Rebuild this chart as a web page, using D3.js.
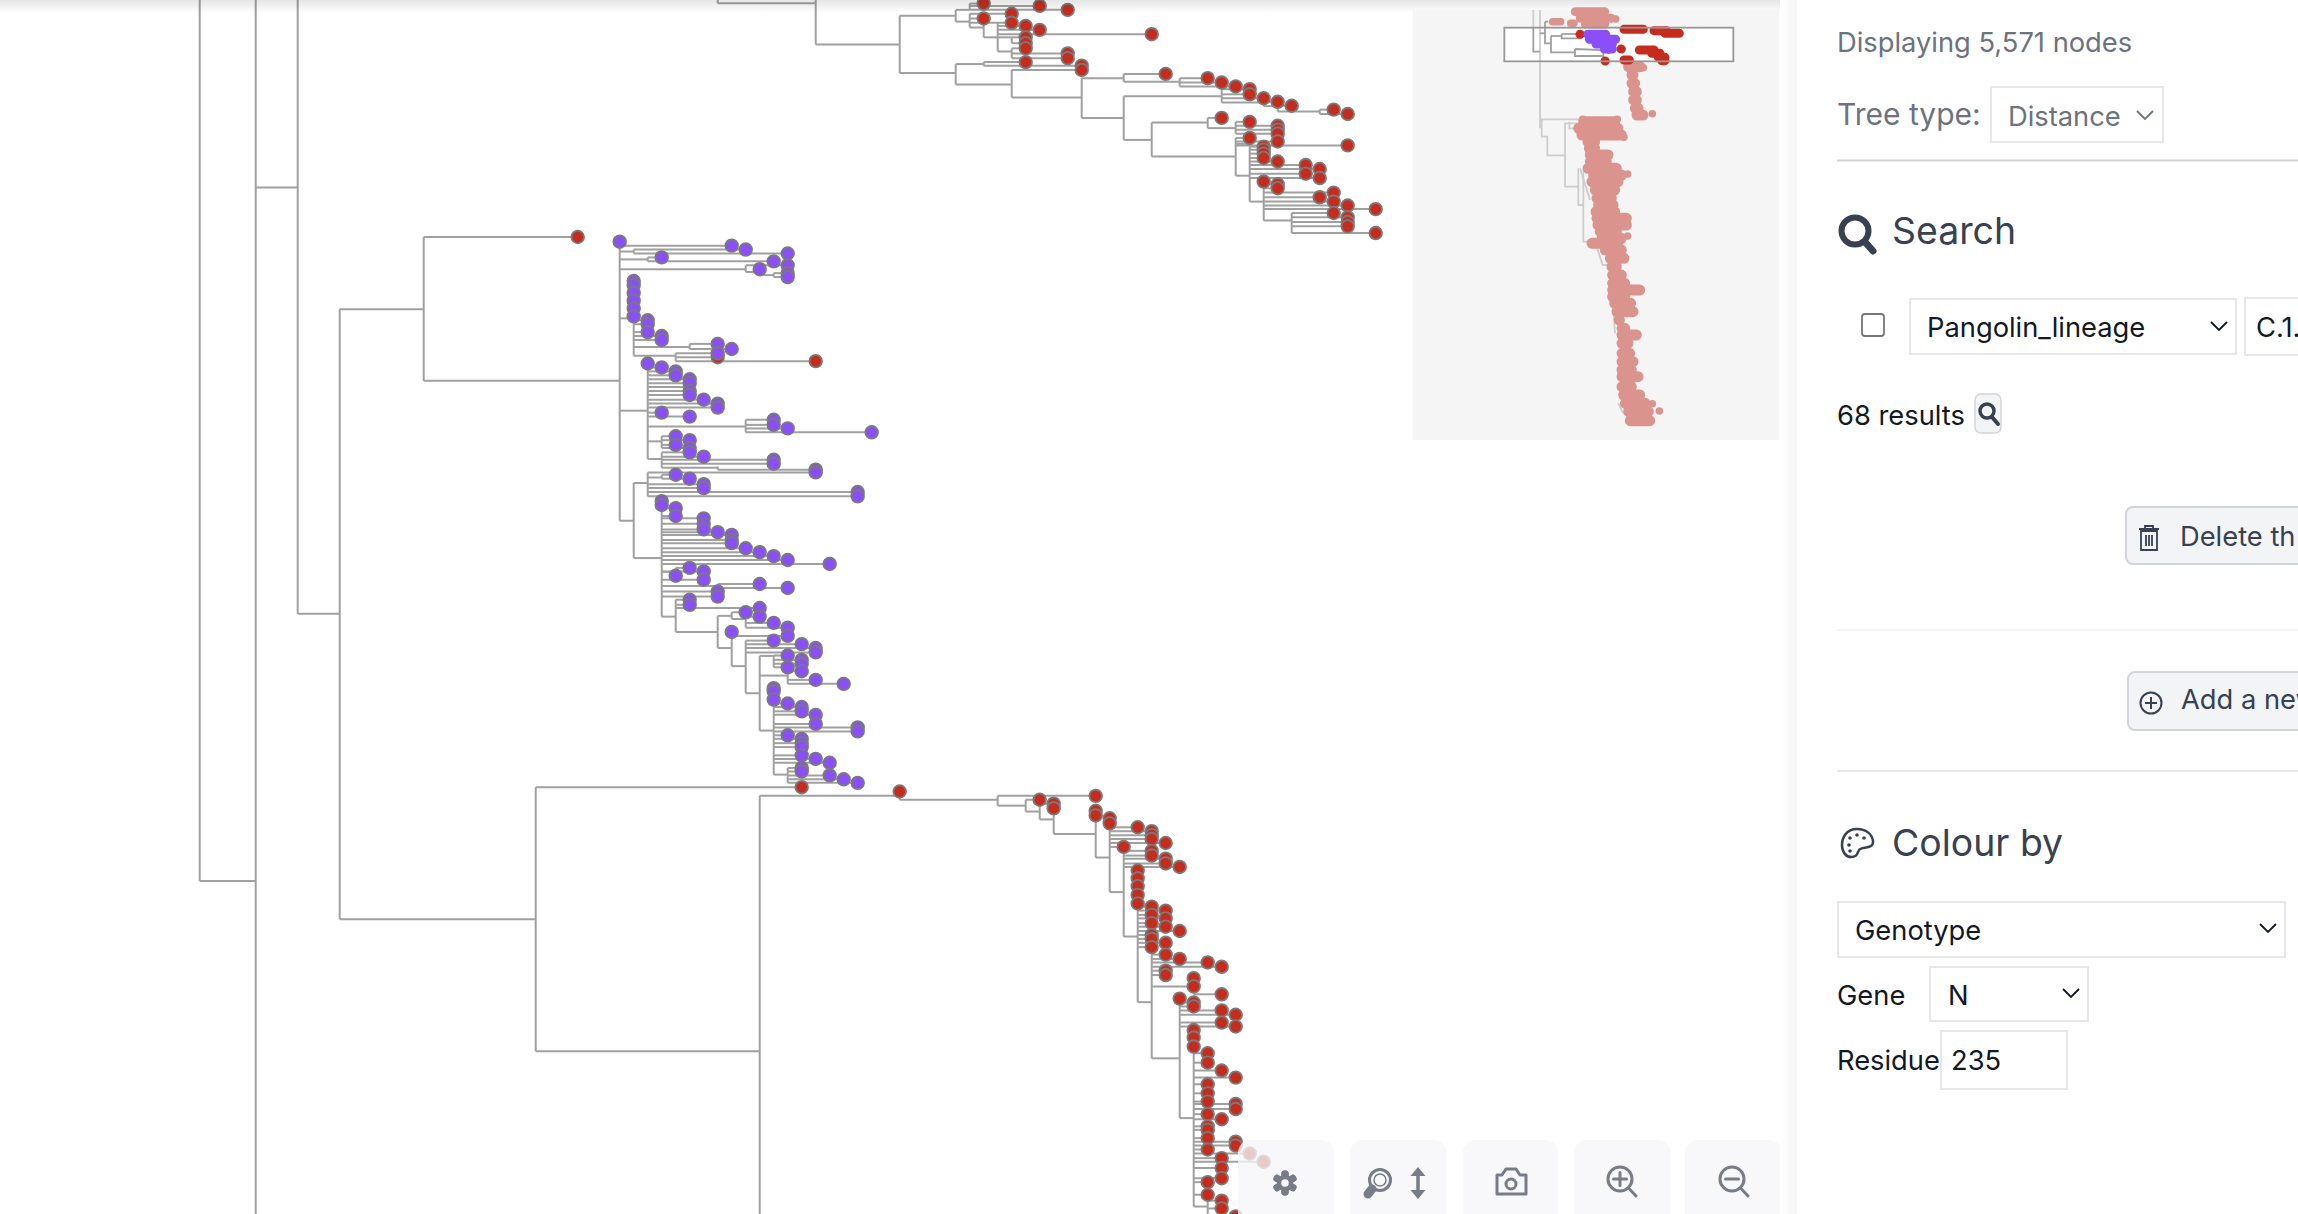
<!DOCTYPE html>
<html>
<head>
<meta charset="utf-8">
<script src="https://cdn.jsdelivr.net/npm/d3@7"></script>
<style>
  html, body { margin: 0; padding: 0; background: #fff; overflow: hidden; }
  svg { display: block; font-family: Inter, "Noto Sans", sans-serif; }
</style>
</head>
<body>
<div id="chart"></div>
<script>
// Tree data: each clade is [spine distance, kids], a kid is [row, end distance, tip]
// tip: 0 = internal branch, 1 = purple, 2 = red
const rootClades = [
  [0, [[-70, 0, 0], [162.7, 4, 0]]],
  [4, [[-70, 4, 0], [-13.8, 7, 0], [260, 4, 0]]],
  [7, [[-70, 7, 0], [94.7, 10, 0]]],
  [10, [[17.2, 16, 0], [172.4, 24, 0]]],
  [16, [[-1.2, 27, 2], [35.4, 30, 0]]],
  [24, [[138.8, 43, 2], [206, 40, 0]]],
  [40, [[141, 50, 0], [260, 40, 0]]],
  [50, [[139.9, 50, 2], [142, 57, 0]]],
];

const purpleUpper = [
  [30, [[0, 30, 1], [1, 38, 1], [2.5, 31, 0], [4.5, 32, 0], [7, 39, 0], [19.5, 31, 0], [43, 32, 0], [71, 31, 0]]],
  [31, [[2, 39, 1], [3, 42, 1]]],
  [32, [[4, 33, 1], [5, 41, 1]]],
  [39, [[6, 42, 1], [7.7, 40, 0]]],
  [40, [[7, 40, 1], [8.5, 41, 0]]],
  [41, [[8, 42, 1], [9, 42, 1]]],
  [31, [[10, 31, 1], [11, 31, 1], [13, 31, 1], [15, 31, 1], [17, 31, 1], [19, 31, 1], [20, 32, 1], [21, 32, 1], [23, 32, 1], [24, 33, 1], [25, 33, 1], [26.8, 35, 0], [29, 34, 0]]],
  [35, [[26, 37, 1], [27.3, 38, 1]]],
  [34, [[28.4, 37, 1], [29.4, 37, 2], [30.4, 44, 2]]],
  [32, [[31, 32, 1], [32, 33, 1], [33, 34, 1], [34, 34, 1], [35, 35, 1], [36, 35, 1], [37, 35, 0], [38, 35, 1], [39, 35, 1], [40.2, 36, 1], [41.2, 37, 1], [42.2, 37, 1], [43.5, 33, 1], [44.5, 35, 1], [47, 39, 0], [50.8, 33, 0], [55.3, 33, 0]]],
  [39, [[45.3, 41, 1], [46.6, 41, 1], [47.5, 42, 1], [48.5, 48, 1]]],
  [33, [[49.5, 34, 1], [50.5, 35, 1], [51.7, 34, 1], [52.5, 35, 1]]],
  [33, [[53.6, 35, 1], [54.7, 36, 1], [55.5, 41, 1], [56.5, 41, 1], [57.5, 37, 0]]],
  [37, [[57.2, 37, 0], [58, 44, 1]]],
  [31, [[61.4, 32, 0], [71, 31, 0], [80.5, 33, 0]]],
  [32, [[58.7, 44, 1], [60, 33, 0], [61.7, 36, 1], [62.7, 36, 1], [63.7, 47, 1], [64.8, 47, 1]]],
  [33, [[59.3, 34, 1], [60.3, 35, 1]]],
];

const purpleLower = [
  [33, [[66, 33, 1], [67, 33, 1], [67.8, 34, 1], [69.8, 34, 1], [70.4, 36, 1], [71.8, 36, 1], [73.2, 36, 1], [73.9, 37, 1], [74.6, 38, 1], [75.9, 38, 1], [76.7, 38, 1], [78, 39, 1], [79, 40, 1], [80, 41, 1], [81, 42, 1], [82, 45, 1], [83.9, 36, 1], [84, 34, 0], [86, 36, 1], [87.6, 37, 0], [89, 37, 1], [90.3, 37, 1], [95.4, 34, 0]]],
  [34, [[83, 35, 1], [85, 34, 1]]],
  [37, [[87.1, 40, 1], [88.1, 42, 1]]],
  [34, [[91.1, 35, 1], [92.4, 35, 1], [93.2, 40, 1], [99.3, 37, 0]]],
  [37, [[95.2, 38, 0], [103.4, 38, 0]]],
  [38, [[94.3, 39, 1], [96, 39, 0]]],
  [39, [[95.4, 40, 1], [97, 41, 1], [98.2, 42, 1]]],
  [38, [[99.3, 38, 1], [100.3, 42, 1], [108, 39, 0]]],
  [39, [[101.5, 41, 1], [102.4, 43, 1], [103.4, 44, 1], [104.5, 44, 1], [114.9, 40, 0]]],
  [40, [[105.4, 41, 0], [110.4, 42, 0], [124.4, 41, 0]]],
  [41, [[105.3, 42, 1], [106.4, 43, 1], [107.4, 43, 1], [108.3, 42, 1]]],
  [42, [[109.3, 43, 1], [111.5, 44, 1], [112.5, 46, 1]]],
  [41, [[113.6, 41, 1], [114.4, 41, 1], [116.5, 41, 1], [117.5, 42, 1], [118.4, 43, 1], [119.5, 43, 1], [120.4, 44, 1], [122.7, 44, 1], [123.6, 47, 1], [124.6, 47, 1], [125.6, 42, 1], [126.5, 43, 1], [127.6, 43, 1], [128.6, 43, 1], [130.7, 43, 1], [131.6, 44, 1], [132.6, 45, 1], [135.6, 42, 0]]],
  [42, [[133.9, 43, 1], [134.8, 43, 1], [135.8, 45, 1], [136.8, 46, 1], [137.7, 47, 1]]],
];

const redUpper = [
  [37, [[-70, 37, 0], [-60.7, 44, 0]]],
  [44, [[-70, 44, 0], [-50.2, 50, 0]]],
  [50, [[-57.5, 54, 0], [-42.9, 54, 0]]],
  [54, [[-59, 55, 0], [-56, 55, 0]]],
  [55, [[-60.6, 56, 2], [-60, 60, 2], [-59, 62, 2]]],
  [55, [[-56.8, 56, 2], [-58, 58, 2], [-55.7, 58, 2], [-54.5, 56, 0]]],
  [56, [[-56, 56, 0], [-52, 57, 0]]],
  [57, [[-55.7, 57, 0], [-54.9, 59, 2], [-53.9, 60, 2], [-52.8, 68, 2], [-52, 58, 0], [-48.4, 58, 0]]],
  [58, [[-52, 59, 2], [-50.5, 59, 2]]],
  [58, [[-49.2, 59, 2], [-47.9, 62, 2], [-46.7, 62, 2]]],
  [54, [[-45.2, 56, 0], [-40, 58, 0]]],
  [56, [[-45.7, 59, 2], [-44.8, 63, 2]]],
  [58, [[-43.7, 63, 2], [-36.7, 63, 0]]],
  [63, [[-41.6, 66, 0], [-31.5, 66, 0]]],
  [66, [[-42.7, 69, 2], [-40.7, 70, 0]]],
  [70, [[-41.6, 72, 2], [-40.5, 73, 2], [-39.5, 74, 2]]],
  [66, [[-37, 73, 0], [-25.9, 68, 0]]],
  [73, [[-38.8, 75, 2], [-37.5, 75, 2], [-36.5, 76, 2], [-35.4, 76, 0]]],
  [76, [[-35.6, 77, 2], [-34.5, 77, 0]]],
  [77, [[-34.6, 78, 2], [-33.1, 80, 0]]],
  [80, [[-33.6, 81, 2], [-32.5, 82, 2]]],
  [68, [[-30.3, 72, 0], [-21.7, 74, 0]]],
  [72, [[-31.5, 73, 2], [-28.9, 74, 0]]],
  [74, [[-30.5, 75, 2], [-29.5, 77, 2], [-28.5, 77, 2], [-27.5, 77, 2]]],
  [74, [[-26.4, 75, 2], [-25.5, 77, 2], [-24.5, 82, 2], [-24.9, 75, 0], [-16.8, 75, 0]]],
  [75, [[-24.2, 76, 2], [-23.4, 76, 2], [-22.4, 76, 2], [-21.3, 76, 2], [-20.4, 77, 2], [-19.5, 79, 2], [-18.5, 80, 2], [-17.3, 79, 2], [-16.2, 80, 2], [-10.2, 76, 0]]],
  [76, [[-15.3, 76, 2], [-14.6, 77, 2], [-13.6, 77, 2], [-12.5, 81, 2], [-11.3, 80, 2], [-10.2, 81, 2], [-9.2, 82, 2], [-8.3, 84, 2], [-5.4, 78, 0]]],
  [78, [[-7.3, 81, 2], [-6.2, 82, 2], [-5, 82, 2], [-3.9, 82, 2], [-2.2, 84, 2]]],
];

const redLower = [
  [57, [[141, 64, 2], [143.5, 59, 0]]],
  [59, [[142, 60, 2], [145, 60, 0]]],
  [60, [[143, 61, 2], [147, 61, 0]]],
  [61, [[144.2, 61, 2], [150.7, 64, 0]]],
  [64, [[144.8, 64, 2], [146, 64, 2], [156.7, 65, 0]]],
  [65, [[146.7, 65, 2], [148, 65, 2], [149, 67, 2], [150, 68, 2], [151, 68, 2], [152, 68, 2], [153, 69, 2], [154, 66, 2], [165.5, 66, 0]]],
  [66, [[155, 68, 2], [156.2, 68, 2], [157, 69, 2], [158.2, 69, 2], [159.1, 70, 2], [176.8, 67, 0]]],
  [67, [[160, 67, 2], [162, 67, 2], [164, 67, 2], [166.2, 67, 2], [168.4, 67, 2], [169.2, 68, 2], [170.2, 69, 2], [171.3, 68, 2], [172.2, 69, 2], [173.4, 68, 2], [174.3, 69, 2], [175.4, 70, 2], [176.4, 68, 2], [177.4, 68, 2], [178.4, 69, 2], [179.5, 68, 2], [193.5, 68, 0]]],
  [68, [[180.4, 68, 0], [181.4, 69, 2], [182.5, 70, 2], [183.4, 72, 2], [184.5, 73, 2], [185.5, 69, 2], [186.6, 69, 2], [189.5, 71, 0], [207.8, 70, 0]]],
  [71, [[187.4, 71, 2], [189.5, 71, 2], [191.5, 73, 2]]],
  [70, [[192.6, 70, 2], [193.6, 71, 2], [194.6, 71, 2], [195.6, 73, 2], [196.7, 74, 2], [198.7, 73, 2], [199.7, 74, 2], [223, 71, 0]]],
  [71, [[200.6, 71, 2], [202.5, 71, 2], [204.8, 71, 2], [206.5, 72, 2], [208.9, 72, 2], [210.9, 73, 2], [212.7, 74, 2], [214.4, 72, 2], [216.7, 72, 2], [218.8, 72, 2], [219.4, 74, 2], [220.7, 74, 2], [222, 72, 2], [223.3, 73, 2], [225.1, 72, 2], [226, 72, 2], [228.1, 72, 2], [229, 74, 2], [230, 74, 2], [231, 72, 2], [232, 75, 2], [233.2, 73, 2], [234.1, 76, 2], [235.7, 73, 2], [238.3, 73, 2], [239.3, 72, 2], [242.5, 72, 2], [245.5, 72, 0]]],
  [72, [[244, 73, 2], [246, 73, 2], [248, 74, 2], [252, 72, 0]]],
];

// Overview map: blobs are [y, xStart, xEnd], read in overview pixels at 3x
const miniPinkTop = [
  [35, 526, 614], [55, 541, 634], [72, 556, 614],
];
const miniPinkThin = [
  [65, 458, 482], [70, 512, 522], [57, 647, 647], [341, 757, 757], [708, 683, 683], [203, 730, 730],
  [358, 548, 548], [358, 652, 652], [412, 672, 672], [522, 683, 683], [1211, 757, 757], [1233, 778, 778],
];
const miniPinkSpans = [
  [200, 686, 720], [225, 696, 699], [250, 696, 704], [275, 701, 709], [300, 701, 709], [325, 706, 714], [345, 711, 729],
  [365, 551, 644], [385, 536, 654], [405, 546, 664], [425, 564, 584], [445, 568, 584], [465, 571, 624], [485, 571, 619],
  [505, 564, 649], [525, 581, 665], [545, 576, 654], [570, 586, 644], [595, 591, 634], [615, 596, 639], [635, 588, 644],
  [655, 591, 679], [675, 594, 679], [695, 601, 649], [715, 606, 664], [730, 576, 654], [750, 616, 664], [775, 631, 672],
  [800, 636, 649], [825, 638, 664], [850, 638, 674], [870, 638, 719], [890, 638, 674], [910, 644, 692], [935, 651, 699],
  [960, 658, 658], [985, 666, 674], [1005, 666, 709], [1030, 666, 684], [1060, 666, 689], [1085, 666, 699], [1110, 666, 694],
  [1130, 666, 714], [1160, 666, 694], [1185, 671, 719], [1210, 676, 735], [1235, 686, 745], [1262, 691, 749],
];
const miniRedSpans = [
  [88, 672, 730], [92, 762, 800], [100, 795, 838], [150, 718, 762], [160, 755, 780], [172, 775, 795], [182, 785, 795], [180, 672, 688],
  [103, 540, 541], [147, 625, 626], [147, 663, 664], [183, 615, 616],
];
const miniPurpleSpans = [[103, 563, 617], [118, 568, 647], [132, 588, 637], [147, 613, 637]];
const miniLightLines = [
  [[420, 30], [420, 385]], [[420, 358], [540, 358]], [[400, 30], [400, 83]],
  [[425, 360], [425, 410], [442, 410], [442, 466], [495, 466], [495, 370], [540, 370]],
  [[495, 466], [495, 560], [535, 560]], [[508, 365], [508, 385], [545, 385]],
  [[535, 505], [535, 615], [550, 615]], [[550, 510], [550, 725], [580, 725]], [[540, 505], [570, 600]],
  [[590, 740], [608, 795], [630, 795]], [[640, 930], [645, 1000]], [[655, 1210], [670, 1240]],
];
const miniDarkLines = [
  [[400, 83], [400, 155], [420, 155]], [[420, 100], [435, 100]], [[435, 65], [435, 130], [453, 130]], [[435, 65], [445, 65]],
  [[453, 108], [453, 157], [525, 157]], [[453, 108], [485, 108]], [[485, 102], [485, 115], [545, 115]], [[485, 102], [540, 102]],
  [[525, 147], [525, 168], [610, 168], [610, 150], [525, 147]],
];

const allClades = [...rootClades, ...purpleUpper, ...purpleLower, ...redUpper, ...redLower];
const tipColours = { 1: '#8a4ffb', 2: '#c62c1d' };

const width = 2298, height = 1214;
const xScale = d3.scaleLinear().domain([0, 84]).range([199.7, 199.7 + 84 * 14]);
const yScale = d3.scaleLinear().domain([0, 250]).range([241.7, 241.7 + 250 * 3.93]);
const miniX = d3.scaleLinear().domain([0, 1200]).range([1400, 1800]);
const miniY = d3.scaleLinear().domain([0, 1350]).range([0, 450]);

const svg = d3.select('#chart').append('svg').attr('width', width).attr('height', height);
const defs = svg.append('defs');

const topShade = defs.append('linearGradient').attr('id', 'topShade').attr('x1', 0).attr('y1', 0).attr('x2', 0).attr('y2', 1);
topShade.append('stop').attr('offset', 0).attr('stop-color', '#000').attr('stop-opacity', 0.1);
topShade.append('stop').attr('offset', 1).attr('stop-color', '#000').attr('stop-opacity', 0);
const sideShade = defs.append('linearGradient').attr('id', 'sideShade').attr('x1', 0).attr('y1', 0).attr('x2', 1).attr('y2', 0);
sideShade.append('stop').attr('offset', 0).attr('stop-color', '#ffffff');
sideShade.append('stop').attr('offset', 1).attr('stop-color', '#f4f4f5');

// Tree branches
const branches = svg.append('g').attr('fill', 'none').attr('stroke', '#a0a0a0').attr('stroke-width', 2);
allClades.forEach(([d, kids]) => {
  const rows = kids.map(k => k[0]);
  branches.append('line')
    .attr('x1', xScale(d)).attr('x2', xScale(d))
    .attr('y1', yScale(d3.min(rows))).attr('y2', yScale(d3.max(rows)));
  kids.filter(k => k[1] !== d).forEach(k => {
    branches.append('line')
      .attr('x1', xScale(d)).attr('x2', xScale(k[1]))
      .attr('y1', yScale(k[0])).attr('y2', yScale(k[0]));
  });
});

// Tips, red first so purple sits on top
const tips = allClades.flatMap(c => c[1].filter(k => k[2] > 0));
const tipOrder = [...tips.filter(k => k[2] === 2), ...tips.filter(k => k[2] === 1)];
svg.append('g').selectAll('circle').data(tipOrder).join('circle')
  .attr('cx', k => xScale(k[1]))
  .attr('cy', k => yScale(k[0]))
  .attr('r', 6.3)
  .attr('fill', k => tipColours[k[2]])
  .attr('stroke', '#7a7a7a')
  .attr('stroke-width', 1.8);

// Top shade of the tree panel
svg.append('rect').attr('x', 0).attr('y', 0).attr('width', 1797).attr('height', 13).attr('fill', 'url(#topShade)');

// Overview map
svg.append('rect').attr('x', 1413).attr('y', 10).attr('width', 366).attr('height', 430).attr('fill', '#f5f5f5');
svg.append('rect')
  .attr('x', miniX(313)).attr('y', miniY(83))
  .attr('width', miniX(1000) - miniX(313)).attr('height', miniY(184) - miniY(83))
  .attr('fill', '#ffffff');

const miniLine = d3.line().x(p => miniX(p[0])).y(p => miniY(p[1]));
svg.append('g').attr('fill', 'none').attr('stroke', '#cdcdcd').attr('stroke-width', 1.8)
  .selectAll('path').data(miniLightLines).join('path').attr('d', miniLine);
svg.append('g').attr('fill', 'none').attr('stroke', '#a0a0a0').attr('stroke-width', 1.8)
  .selectAll('path').data(miniDarkLines).join('path').attr('d', miniLine);

function drawSpans(spans, colour, w) {
  svg.append('g').attr('stroke', colour).attr('stroke-width', w).attr('stroke-linecap', 'round')
    .selectAll('line').data(spans).join('line')
    .attr('x1', s => miniX(s[1])).attr('x2', s => miniX(s[2]))
    .attr('y1', s => miniY(s[0])).attr('y2', s => miniY(s[0]) + 0.01);
}
drawSpans(miniPinkThin, '#da948d', 7.5);
drawSpans(miniPinkTop, '#da948d', 9);
drawSpans(miniPinkSpans, '#da948d', 11);
drawSpans(miniRedSpans, '#c62c1d', 9);
drawSpans(miniPurpleSpans, '#8a4ffb', 9);
svg.append('rect')
  .attr('x', miniX(313)).attr('y', miniY(83))
  .attr('width', miniX(1000) - miniX(313)).attr('height', miniY(184) - miniY(83))
  .attr('fill', 'none').attr('stroke', '#979797').attr('stroke-width', 1.8);

// Tree panel buttons
const iconGrey = '#777c88';
[[1238, 96], [1350, 97], [1463, 95], [1574, 97], [1685, 97]].forEach(([x, w]) => {
  svg.append('rect').attr('x', x).attr('y', 1140).attr('width', w).attr('height', 90).attr('rx', 13)
    .attr('fill', '#f6f6f9').attr('fill-opacity', 0.78);
});
const icons = svg.append('g').attr('fill', 'none').attr('stroke', iconGrey).attr('stroke-width', 3).attr('stroke-linecap', 'round').attr('stroke-linejoin', 'round');
// gear
const gear = svg.append('g').attr('transform', 'translate(1285,1183)');
d3.range(6).forEach(i => {
  gear.append('rect').attr('x', -3.6).attr('y', -12.5).attr('width', 7.2).attr('height', 25).attr('rx', 3)
    .attr('fill', iconGrey).attr('transform', `rotate(${i * 60})`);
});
gear.append('circle').attr('r', 8).attr('fill', iconGrey);
gear.append('circle').attr('r', 3.8).attr('fill', '#f6f6f9');
// magnifier + vertical arrow
icons.append('circle').attr('cx', 1380).attr('cy', 1180).attr('r', 10.5);
icons.append('circle').attr('cx', 1380).attr('cy', 1180).attr('r', 6).attr('stroke-width', 1.5);
icons.append('path').attr('d', 'M1372 1189 L1368 1194').attr('stroke-width', 9);
icons.append('path').attr('d', 'M1418 1172 V1194').attr('stroke-width', 3.5);
svg.append('path').attr('d', 'M1418 1167 l7.5 9 h-15 z M1418 1199 l7.5 -9 h-15 z').attr('fill', iconGrey);
// camera
icons.append('path').attr('d', 'M1497 1175 h5 l4 -6 h10 l4 6 h6 v19 h-29 z');
icons.append('circle').attr('cx', 1511).attr('cy', 1184).attr('r', 5);
// zoom in / out
icons.append('circle').attr('cx', 1620).attr('cy', 1179).attr('r', 12);
icons.append('path').attr('d', 'M1628.5 1188 L1636 1196 M1613.5 1179 H1626.5 M1620 1172.5 V1185.5');
icons.append('circle').attr('cx', 1732).attr('cy', 1179).attr('r', 12);
icons.append('path').attr('d', 'M1740.5 1188 L1748 1196 M1725.5 1179 H1738.5');

// Side panel
svg.append('rect').attr('x', 1797).attr('y', 0).attr('width', width - 1797).attr('height', height).attr('fill', '#fff');
svg.append('rect').attr('x', 1780).attr('y', 0).attr('width', 17).attr('height', height).attr('fill', 'url(#sideShade)');

const grey = '#6b7280', slate = '#374151', ink = '#111827', boxEdge = '#e5e7eb';
const bodySize = 27.3;

function label(x, y, text, size, colour) {
  return svg.append('text').attr('x', x).attr('y', y).attr('dominant-baseline', 'central')
    .attr('font-size', size).attr('fill', colour).text(text);
}
function box(x, y, w, h, edge) {
  svg.append('rect').attr('x', x).attr('y', y).attr('width', w).attr('height', h)
    .attr('fill', '#fff').attr('stroke', edge || boxEdge).attr('stroke-width', 2);
}
function chevron(x, y, colour) {
  svg.append('path').attr('d', `M${x - 8} ${y - 4} L${x} ${y + 4} L${x + 8} ${y - 4}`)
    .attr('fill', 'none').attr('stroke', colour).attr('stroke-width', 1.8);
}
function rule(y, colour) {
  svg.append('rect').attr('x', 1837).attr('y', y).attr('width', width - 1837).attr('height', 2).attr('fill', colour);
}

label(1837, 42.5, 'Displaying 5,571 nodes', 27.3, grey);
label(1837, 114, 'Tree type:', 30, grey);
box(1991, 87, 172, 55);
label(2008, 116, 'Distance', bodySize, grey);
chevron(2145, 115, grey);
rule(159.5, '#d1d5db');

svg.append('circle').attr('cx', 1855).attr('cy', 231).attr('r', 13.5).attr('fill', 'none').attr('stroke', slate).attr('stroke-width', 6);
svg.append('path').attr('d', 'M1865 242 L1873 251').attr('stroke', slate).attr('stroke-width', 7).attr('stroke-linecap', 'round');
label(1892, 230, 'Search', 37.4, slate);

svg.append('rect').attr('x', 1862).attr('y', 314).attr('width', 22).attr('height', 22).attr('rx', 3)
  .attr('fill', '#fff').attr('stroke', '#767676').attr('stroke-width', 1.8);
box(1910, 299, 326, 55);
label(1927, 327, 'Pangolin_lineage', bodySize, ink);
chevron(2219, 326, ink);
box(2245, 298, 70, 57);
label(2256, 327, 'C.1.', bodySize, ink);

label(1837, 415, '68 results', bodySize, ink);
svg.append('rect').attr('x', 1975).attr('y', 394).attr('width', 26).attr('height', 39).attr('rx', 6)
  .attr('fill', '#f3f4f6').attr('stroke', '#d1d5db').attr('stroke-width', 1.5);
svg.append('circle').attr('cx', 1987).attr('cy', 411).attr('r', 7).attr('fill', 'none').attr('stroke', slate).attr('stroke-width', 3.5);
svg.append('path').attr('d', 'M1992 417 L1998 424').attr('stroke', slate).attr('stroke-width', 4).attr('stroke-linecap', 'round');

// Delete button
svg.append('rect').attr('x', 2126).attr('y', 507).attr('width', 260).attr('height', 57).attr('rx', 7)
  .attr('fill', '#f3f4f6').attr('stroke', '#d1d5db').attr('stroke-width', 2);
svg.append('path').attr('d', 'M2139 529 H2159 M2145 529 v-3 h8 v3 M2141 531 h16 v19 h-16 z M2146 535 v11 M2149 535 v11 M2152 535 v11')
  .attr('fill', 'none').attr('stroke', slate).attr('stroke-width', 1.8);
label(2180, 536, 'Delete th', bodySize, slate);
rule(629, '#f3f4f6');

// Add button
svg.append('rect').attr('x', 2128).attr('y', 672).attr('width', 260).attr('height', 58).attr('rx', 7)
  .attr('fill', '#f3f4f6').attr('stroke', '#d1d5db').attr('stroke-width', 2);
svg.append('circle').attr('cx', 2151).attr('cy', 703).attr('r', 10.5).attr('fill', 'none').attr('stroke', slate).attr('stroke-width', 2);
svg.append('path').attr('d', 'M2145 703 H2157 M2151 697 V709').attr('stroke', slate).attr('stroke-width', 2);
label(2181, 699, 'Add a new', bodySize, slate);
rule(770, boxEdge);

// Palette icon
svg.append('path')
  .attr('d', 'M1857 829 C1846 829 1842 838 1842 845 C1842 852 1846 857 1851 857 C1857 857 1857 854 1859 850 C1861 846 1874 850 1873 841 C1872 834 1866 829 1857 829 Z')
  .attr('fill', 'none').attr('stroke', slate).attr('stroke-width', 2.5);
[[1850, 838], [1857, 835], [1864, 838], [1849, 845], [1850, 851]].forEach(([cx, cy]) => {
  svg.append('circle').attr('cx', cx).attr('cy', cy).attr('r', 1.8).attr('fill', slate);
});
label(1892, 842, 'Colour by', 37.4, slate);

box(1838, 902, 447, 55);
label(1855, 930, 'Genotype', bodySize, ink);
chevron(2268, 928, ink);
label(1837, 995, 'Gene', bodySize, ink);
box(1930, 967, 158, 54);
label(1948, 995, 'N', bodySize, ink);
chevron(2071, 993, ink);
label(1837, 1060, 'Residue', bodySize, ink);
box(1941, 1031, 126, 58);
label(1951, 1060, '235', bodySize, ink);
</script>
</body>
</html>
